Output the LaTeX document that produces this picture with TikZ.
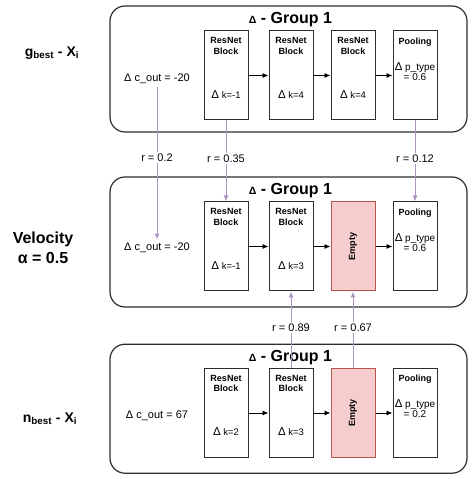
\documentclass[tikz,border=0pt]{standalone}
\usepackage{fontspec}
\setmainfont{Liberation Sans}
\usetikzlibrary{arrows.meta,positioning}
\definecolor{linkpurple}{RGB}{172,148,196}
\definecolor{emptyfill}{RGB}{245,205,205}
\definecolor{emptyline}{RGB}{184,84,80}
\definecolor{boxline}{RGB}{45,45,45}
\newcommand{\dlt}{{\fontsize{11.5}{12}\selectfont Δ}}
\newcommand{\dtitle}{{\fontsize{10.5}{12}\selectfont Δ}}
\tikzset{
    group/.style = {draw=boxline, rectangle, rounded corners=15pt,
        line width=1.2pt, minimum width=357pt},
    block/.style = {draw=boxline, rectangle, fill=white, line width=1pt,
        minimum height=89pt, minimum width=44pt, inner sep=0pt},
    emptyblk/.style = {block, draw=emptyline, fill=emptyfill,
        font=\fontsize{9}{10}\selectfont\bfseries},
    head/.style = {anchor=north, inner sep=0pt, yshift=-7pt, align=center,
        font=\fontsize{9}{10.5}\selectfont\bfseries},
    val/.style = {anchor=south, inner sep=0pt, yshift=22pt, align=center,
        font=\fontsize{9.5}{10}\selectfont},
    pval/.style = {val, yshift=18pt, font=\fontsize{10}{10}\selectfont},
    title/.style = {anchor=base, yshift=-18pt, xshift=2pt,
        font=\fontsize{16}{18}\selectfont\bfseries},
    cout/.style = {font=\fontsize{11}{12}\selectfont},
    flow/.style = {draw, ->, line width=0.9pt},
    link/.style = {draw=linkpurple, ->, line width=1pt},
    rlbl/.style = {fill=white, inner sep=1.5pt, font=\fontsize{11}{12}\selectfont},
    side/.style = {align=center, font=\fontsize{14}{16}\selectfont\bfseries}
}

\begin{document}
\begin{tikzpicture}[x=1pt, y=1pt, >={Latex[length=6pt,width=5pt]}]
        \useasboundingbox (0,0) rectangle (474,479);
        % g_best row
        \node [side] (gb) at (52,426) {g\textsubscript{best} - X\textsubscript{i}};
        \node [group, minimum height=126pt, label={[title]north:{\dtitle{} - Group 1}}] (g1) at (288.5,410) {};
        \node [cout] (cout1) at (157,400) {Δ c\_out = -20};
        \node [block, name=res11, label={[head]north:{ResNet\\Block}}, label={[val]south:{\dlt{} k=-1}}] at (226,403.5) {};
        \node [block, right of=res11, node distance=65pt, name=res12, label={[head]north:{ResNet\\Block}}, label={[val]south:{\dlt{} k=4}}] {};
        \node [block, right of=res12, node distance=62pt, name=res13, label={[head]north:{ResNet\\Block}}, label={[val]south:{\dlt{} k=4}}] {};
        \node [block, right of=res13, node distance=62pt, name=pool1, label={[head]north:Pooling}, label={[pval]south:{\dlt{} p\_type\\= 0.6}}] {};
        \draw [flow] (res11) -- (res12);
        \draw [flow] (res12) -- (res13);
        \draw [flow] (res13) -- (pool1);

        % velocity row
        \node [side, font=\fontsize{16}{20}\selectfont\bfseries] (vel) at (43,231) {Velocity\\α = 0.5};
        \node [group, minimum height=130pt, label={[title]north:{\dtitle{} - Group 1}}] (g2) at (288.5,237) {};
        \node [cout] (cout2) at (157,231) {Δ c\_out = -20};
        \node [block, name=res21, label={[head]north:{ResNet\\Block}}, label={[val]south:{\dlt{} k=-1}}] at (226,232.5) {};
        \node [block, right of=res21, node distance=65pt, name=res22, label={[head]north:{ResNet\\Block}}, label={[val]south:{\dlt{} k=3}}] {};
        \node [emptyblk, right of=res22, node distance=62pt, name=emp2] {\rotatebox{90}{Empty}};
        \node [block, right of=emp2, node distance=62pt, name=pool2, label={[head]north:Pooling}, label={[pval]south:{\dlt{} p\_type\\= 0.6}}] {};
        \draw [flow] (res21) -- (res22);
        \draw [flow] (res22) -- (emp2);
        \draw [flow] (emp2) -- (pool2);

        % n_best row
        \node [side] (nb) at (50,60) {n\textsubscript{best} - X\textsubscript{i}};
        \node [group, minimum height=129pt, label={[title]north:{\dtitle{} - Group 1}}] (g3) at (288.5,70.3) {};
        \node [cout] (cout3) at (157,63) {Δ c\_out = 67};
        \node [block, name=res31, label={[head]north:{ResNet\\Block}}, label={[val]south:{\dlt{} k=2}}] at (226,66) {};
        \node [block, right of=res31, node distance=65pt, name=res32, label={[head]north:{ResNet\\Block}}, label={[val]south:{\dlt{} k=3}}] {};
        \node [emptyblk, right of=res32, node distance=62pt, name=emp3] {\rotatebox{90}{Empty}};
        \node [block, right of=emp3, node distance=62pt, name=pool3, label={[head]north:Pooling}, label={[pval]south:{\dlt{} p\_type\\= 0.2}}] {};
        \draw [flow] (res31) -- (res32);
        \draw [flow] (res32) -- (emp3);
        \draw [flow] (emp3) -- (pool3);

        % weighted pulls into the velocity
        \draw [link] (cout1) -- node [rlbl, pos=.46] {r = 0.2} (cout2);
        \draw [link] (res11) -- node [rlbl, pos=.47] {r = 0.35} (res21);
        \draw [link] (pool1) -- node [rlbl, pos=.47] {r = 0.12} (pool2);
        \draw [link] (res32) -- node [rlbl, pos=.53] {r = 0.89} (res22);
        \draw [link] (emp3) -- node [rlbl, pos=.53] {r = 0.67} (emp2);
        \end{tikzpicture}
\end{document}
